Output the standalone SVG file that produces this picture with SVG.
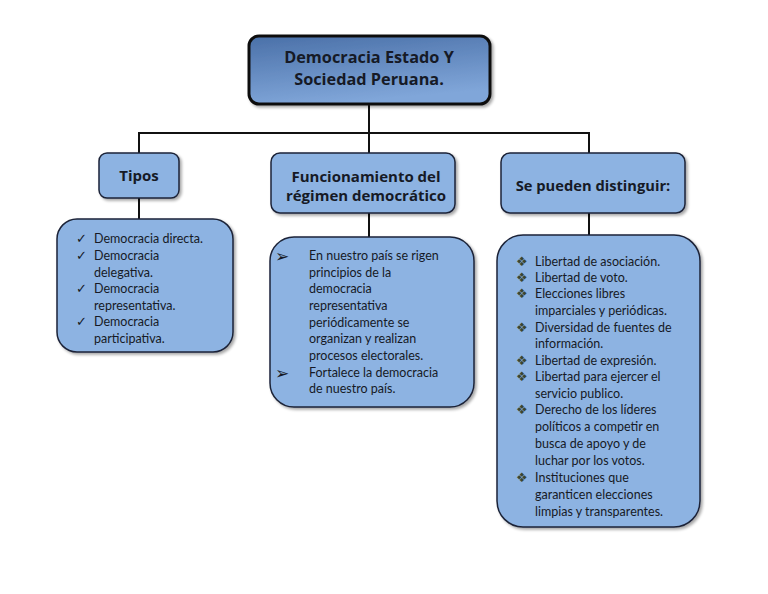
<svg xmlns="http://www.w3.org/2000/svg" width="768" height="594" viewBox="0 0 768 594">
<defs>
<linearGradient id="gTop" x1="0" y1="0" x2="0.3" y2="1">
<stop offset="0" stop-color="#4a70a8"/>
<stop offset="1" stop-color="#80a6d9"/>
</linearGradient>
<filter id="sh" x="-10%" y="-10%" width="130%" height="130%">
<feGaussianBlur in="SourceAlpha" stdDeviation="1.5"/>
<feOffset dx="1.5" dy="2" result="b"/>
<feComponentTransfer><feFuncA type="linear" slope="0.35"/></feComponentTransfer>
<feMerge><feMergeNode/><feMergeNode in="SourceGraphic"/></feMerge>
</filter>
</defs>
<style>
.box{fill:#8db3e2;stroke:#1c2438;stroke-width:1.5;filter:url(#sh)}
.top{fill:url(#gTop);stroke:#111;stroke-width:3;filter:url(#sh)}
.conn{fill:none;stroke:#111;stroke-width:2}
.h{font-family:"Open Sans","Liberation Sans",sans-serif;font-weight:bold;fill:#161a26;text-anchor:middle}
.t{font-family:Lato,"Liberation Sans",sans-serif;font-size:12.5px;fill:#161a26}
.b{font-family:"DejaVu Sans",sans-serif;fill:#161a26}
.bd{font-family:"DejaVu Sans",sans-serif;fill:#3a4632}
</style>
<rect width="768" height="594" fill="#ffffff"/>
<g id="connectors">
<line class="conn" x1="369" y1="104" x2="369" y2="153"/>
<polyline class="conn" points="139,153 139,133 589,133 589,153"/>
<line class="conn" x1="139" y1="198" x2="139" y2="219"/>
<line class="conn" x1="369" y1="213" x2="369" y2="237"/>
<line class="conn" x1="589" y1="213" x2="589" y2="235"/>
</g>
<g id="root">
<rect class="top" x="249" y="36" width="241" height="68" rx="10"/>
<text class="h" font-size="16.3" x="369" y="63">Democracia Estado Y</text>
<text class="h" font-size="16.3" x="369" y="85">Sociedad Peruana.</text>
</g>
<g id="tipos">
<rect class="box" x="99" y="153" width="80" height="45" rx="8"/>
<text class="h" font-size="15" x="139" y="181">Tipos</text>
</g>
<g id="funcionamiento">
<rect class="box" x="271" y="153" width="184" height="60" rx="9"/>
<text class="h" font-size="15" x="366" y="182">Funcionamiento del</text>
<text class="h" font-size="15" x="366" y="201">régimen democrático</text>
</g>
<g id="distinguir">
<rect class="box" x="501" y="153" width="184" height="60" rx="9"/>
<text class="h" font-size="14.7" x="593" y="191">Se pueden distinguir:</text>
</g>
<g id="lista-tipos">
<rect class="box" x="57" y="219" width="176" height="133" rx="20"/>
<g class="b" font-size="13">
<text x="76" y="243">✓</text><text x="76" y="260">✓</text><text x="76" y="293">✓</text><text x="76" y="326">✓</text>
</g>
<text class="t" x="94" y="243">Democracia directa.</text>
<text class="t" x="94" y="260">Democracia</text>
<text class="t" x="94" y="277">delegativa.</text>
<text class="t" x="94" y="293">Democracia</text>
<text class="t" x="94" y="310">representativa.</text>
<text class="t" x="94" y="326">Democracia</text>
<text class="t" x="94" y="343">participativa.</text>
</g>
<g id="lista-funcionamiento">
<rect class="box" x="270" y="237" width="204" height="170" rx="24"/>
<g class="b" font-size="17">
<text x="275" y="262">➢</text><text x="275" y="379">➢</text>
</g>
<text class="t" x="309" y="260">En nuestro país se rigen</text>
<text class="t" x="309" y="277">principios de la</text>
<text class="t" x="309" y="293">democracia</text>
<text class="t" x="309" y="310">representativa</text>
<text class="t" x="309" y="327">periódicamente se</text>
<text class="t" x="309" y="343">organizan y realizan</text>
<text class="t" x="309" y="360">procesos electorales.</text>
<text class="t" x="309" y="377">Fortalece la democracia</text>
<text class="t" x="309" y="393">de nuestro país.</text>
</g>
<g id="lista-distinguir">
<rect class="box" x="497" y="235" width="203" height="292" rx="26"/>
<g class="bd" font-size="13">
<text x="516" y="266">❖</text><text x="516" y="282">❖</text><text x="516" y="298">❖</text><text x="516" y="332">❖</text><text x="516" y="365">❖</text><text x="516" y="381">❖</text><text x="516" y="414">❖</text><text x="516" y="482">❖</text>
</g>
<text class="t" x="535" y="266">Libertad de asociación.</text>
<text class="t" x="535" y="282">Libertad de voto.</text>
<text class="t" x="535" y="298">Elecciones libres</text>
<text class="t" x="535" y="315">imparciales y periódicas.</text>
<text class="t" x="535" y="332">Diversidad de fuentes de</text>
<text class="t" x="535" y="348">información.</text>
<text class="t" x="535" y="365">Libertad de expresión.</text>
<text class="t" x="535" y="381">Libertad para ejercer el</text>
<text class="t" x="535" y="398">servicio publico.</text>
<text class="t" x="535" y="414">Derecho de los líderes</text>
<text class="t" x="535" y="431">políticos a competir en</text>
<text class="t" x="535" y="448">busca de apoyo y de</text>
<text class="t" x="535" y="465">luchar por los votos.</text>
<text class="t" x="535" y="482">Instituciones que</text>
<text class="t" x="535" y="499">garanticen elecciones</text>
<text class="t" x="535" y="516">limpias y transparentes.</text>
</g>
</svg>
